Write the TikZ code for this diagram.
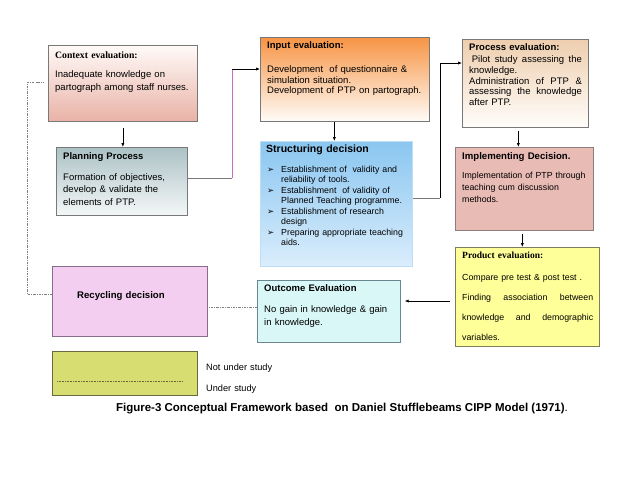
\documentclass[tikz,border=0pt]{standalone}
\usepackage{fontspec}
\setmainfont{Liberation Sans}
\newfontfamily\tnr{Liberation Serif}
\newfontfamily\dvs{DejaVu Sans}
\usetikzlibrary{arrows.meta}
\definecolor{ctxbot}{RGB}{233,178,166}
\definecolor{ctxtop}{RGB}{255,250,248}
\definecolor{inptop}{RGB}{247,148,68}
\definecolor{inpbot}{RGB}{255,252,248}
\definecolor{prctop}{RGB}{238,206,174}
\definecolor{prcbot}{RGB}{255,253,250}
\definecolor{plntop}{RGB}{172,194,198}
\definecolor{plnbot}{RGB}{244,247,247}
\definecolor{strtop}{RGB}{138,198,240}
\definecolor{strbot}{RGB}{218,237,252}
\definecolor{strline}{RGB}{190,222,245}
\definecolor{implfill}{RGB}{232,187,181}
\definecolor{implline}{RGB}{140,124,124}
\definecolor{prodfill}{RGB}{255,255,153}
\definecolor{prodline}{RGB}{125,125,92}
\definecolor{recfill}{RGB}{243,206,240}
\definecolor{recline}{RGB}{135,108,140}
\definecolor{outfill}{RGB}{218,247,247}
\definecolor{outline}{RGB}{105,135,145}
\definecolor{legfill}{RGB}{216,221,114}
\definecolor{legline}{RGB}{105,105,60}
\definecolor{boxline}{RGB}{120,120,120}
\definecolor{pinkline}{RGB}{200,110,190}
\newcommand{\jline}[2]{{\spaceskip=0pt\xspaceskip=0pt\makebox[#1][s]{#2}}}
\newcommand{\bul}{\makebox[14pt][l]{\dvs\fontsize{8.5}{9}\selectfont ➢}}
\begin{document}
\begin{tikzpicture}[x=1pt,y=-1pt,
  box/.style={draw=boxline, line width=0.7pt, inner sep=0pt, anchor=north west},
  txt/.style={inner sep=0pt, anchor=base west, align=left, text width=220pt},
  fs/.style 2 args={font=\fontsize{#1}{#2}\selectfont},
  bfs/.style 2 args={font=\bfseries\fontsize{#1}{#2}\selectfont},
  arr/.style={-{Latex[length=4pt,width=3.2pt]}, line width=0.7pt},
  conn/.style={line width=0.7pt},
  dd/.style={line width=0.7pt, draw=gray, dash pattern=on 2.5pt off 1.2pt on 0.6pt off 1.2pt}
]
\useasboundingbox (0,0) rectangle (638,493);
\fill[white] (0,0) rectangle (638,493);

% boxes
\node[box, top color=ctxtop, bottom color=ctxbot, minimum width=149pt, minimum height=76pt] (context) at (48,45) {};
\node[box, top color=inptop, bottom color=inpbot, minimum width=169pt, minimum height=84pt] (input) at (260,37) {};
\node[box, top color=prctop, bottom color=prcbot, minimum width=126pt, minimum height=88pt] (process) at (462,39) {};
\node[box, top color=plntop, bottom color=plnbot, minimum width=131pt, minimum height=68pt] (planning) at (56,147) {};
\node[box, draw=strline, top color=strtop, bottom color=strbot, minimum width=152pt, minimum height=125pt] (struct) at (260,141) {};
\node[box, draw=implline, fill=implfill, minimum width=138pt, minimum height=83pt] (impl) at (455,147) {};
\node[box, draw=prodline, fill=prodfill, minimum width=144pt, minimum height=99pt] (product) at (455,247) {};
\node[box, draw=recline, fill=recfill, minimum width=155pt, minimum height=70pt] (recyc) at (52,266) {};
\node[box, draw=outline, fill=outfill, minimum width=143pt, minimum height=62pt] (outcome) at (257,280) {};
\node[box, draw=legline, fill=legfill, minimum width=145pt, minimum height=44pt] (legend) at (52,351) {};

% texts
\node[txt, font=\tnr\bfseries\fontsize{9.7}{12}\selectfont] (ctxt) at (55,58) {Context evaluation:};
\node[txt, fs={9.5}{12.3}] (ctxb) at (55,77.7) {Inadequate knowledge on\\partograph among staff nurses.};

\node[txt, bfs={9.5}{12}] (inpt) at (267,48.7) {Input evaluation:};
\node[txt, fs={9.5}{10.4}] (inpb) at (267,72.7) {Development\ \ of questionnaire \&\\simulation situation.\\Development of PTP on partograph.};

\node[txt, bfs={9.5}{12}] (prct) at (469,50.7) {Process evaluation:};
\node[txt, fs={9.5}{10.65}] (prcb) at (469,62.7) {\hspace*{2.7pt}\jline{110pt}{Pilot study assessing the}\\knowledge.\\\jline{112.7pt}{Administration of PTP \&}\\\jline{112.7pt}{assessing the knowledge}\\after PTP.};

\node[txt, bfs={9.5}{12}] (plnt) at (63,159) {Planning Process};
\node[txt, fs={9.5}{12.5}] (plnb) at (63,180) {Formation of objectives,\\develop \& validate the\\elements of PTP.};

\node[txt, bfs={10.5}{12}] (strt) at (266,152.3) {Structuring decision};
\node[txt, fs={8.8}{10.5}] (strb) at (267,172) {\bul Establishment of\ \ validity and\\\hspace*{14pt}reliability of tools.\\\bul Establishment\ \ of validity of\\\hspace*{14pt}Planned Teaching programme.\\\bul Establishment of research\\\hspace*{14pt}design\\\bul Preparing appropriate teaching\\\hspace*{14pt}aids.};

\node[txt, bfs={9.6}{12}] (implt) at (462,159.3) {Implementing Decision.};
\node[txt, fs={8.8}{12.2}] (implb) at (462,178.3) {Implementation of PTP through\\teaching cum discussion\\methods.};

\node[txt, font=\tnr\bfseries\fontsize{9.5}{12}\selectfont] (prodt) at (462,258.7) {Product evaluation:};
\node[txt, fs={8.8}{20.3}] (prodb) at (462,280) {Compare pre test \& post test .\\\jline{131pt}{Finding association between}\\\jline{131pt}{knowledge and demographic}\\variables.};

\node[txt, bfs={9.6}{12}] (rect) at (77,298.3) {Recycling decision};

\node[txt, bfs={9.5}{12}] (outt) at (264,291.7) {Outcome Evaluation};
\node[txt, fs={9.5}{12.3}] (outb) at (264,312.7) {No gain in knowledge \& gain\\in knowledge.};

\node[txt, fs={9.2}{12}] (leg1) at (206,370.7) {Not under study};
\node[txt, fs={9.2}{12}] (leg2) at (206,391.7) {Under study};
\coordinate (lg1) at (57,381);
\coordinate (lg2) at (182,381);
\draw[line width=0.5pt, legline, dash pattern=on 1pt off 0.6pt] (lg1) -- (lg2);

\node[inner sep=0pt, anchor=base, font=\bfseries\fontsize{11.5}{13}\selectfont] (caption) at (342,411.7) {Figure-3 Conceptual Framework based\ \ on Daniel Stufflebeams CIPP Model (1971)\textmd{.}};

% connectors
\draw[arr] ([yshift=-6pt]context.south) -- (context.south |- planning.north);
\coordinate (pi1) at (232,178);
\coordinate (pi2) at (232,69);
\draw[conn, draw=boxline] (planning.east |- pi1) -- (pi1);
\draw[conn, draw=pinkline] (pi1) -- (pi2);
\draw[arr] (pi2) -- (pi2 -| input.west);
\draw[arr] ([xshift=-2pt]struct.north |- input.south) -- ([xshift=-2pt]struct.north);
\coordinate (sp1) at (440,198);
\coordinate (sp2) at (440,63);
\draw[conn, draw=boxline] (struct.east |- sp1) -- (sp1);
\draw[arr] (sp1) -- (sp2) -- (sp2 -| process.west);
\draw[arr] ([xshift=-7pt,yshift=-3pt]process.south) -- ([xshift=-7pt]process.south |- impl.north);
\draw[arr] ([xshift=-2pt,yshift=-3pt]impl.south) -- ([xshift=-2pt]impl.south |- product.north);
\coordinate (po) at (450,301);
\draw[arr] (po) -- ([xshift=4pt]outcome.east |- po);
\coordinate (or) at (257,307);
\draw[dd] (outcome.west |- or) -- (recyc.east |- or);
\coordinate (rc1) at (27,294);
\coordinate (rc2) at (27,82);
\coordinate (rc3) at (44,82);
\draw[dd] (recyc.west |- rc1) -- (rc1) -- (rc2) -- (rc3);
\end{tikzpicture}
\end{document}
